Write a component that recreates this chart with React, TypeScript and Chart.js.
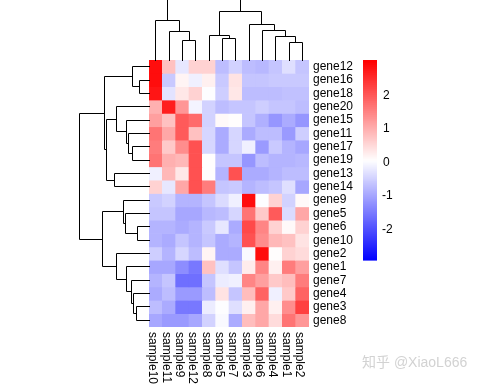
import React, { useEffect, useRef } from "react";
import { Chart, registerables } from "chart.js";

Chart.register(...registerables);

const samples = ["sample10", "sample11", "sample9", "sample12", "sample8", "sample5", "sample7", "sample3", "sample6", "sample4", "sample1", "sample2"];
const genes = ["gene12", "gene16", "gene18", "gene20", "gene15", "gene11", "gene17", "gene19", "gene13", "gene14", "gene9", "gene5", "gene6", "gene10", "gene2", "gene1", "gene7", "gene4", "gene3", "gene8"];

// rows follow `genes`, columns follow `samples`
const expr: number[][] = [
  [2.9, 0.8, -0.2, 0.6, 0.6, -0.7, -0.45, -0.7, -0.75, -0.6, -0.3, -0.6],
  [2.9, -0.55, 0.2, -0.1, 0.25, -0.55, 0.4, -0.6, -0.6, -0.55, -0.55, -0.55],
  [2.8, -0.25, 0.35, 0.6, 0.05, -0.5, 0.35, -0.7, -0.7, -0.7, -0.65, -0.65],
  [1.0, 2.7, 1.3, -0.05, -0.45, -0.7, -0.6, -0.6, -0.5, -0.6, -0.6, -0.7],
  [1.2, 0.8, 2.0, 1.8, -0.45, 0.15, 0.1, -0.6, -0.85, -1.15, -0.9, -1.15],
  [1.7, 1.1, 2.0, 0.8, -0.4, -0.9, -0.4, -0.9, -0.7, -0.7, -1.1, -0.5],
  [1.6, 0.7, 1.4, 2.1, -0.4, -0.9, -0.4, -0.1, -1.1, -0.55, -0.8, -0.95],
  [1.7, 1.0, 0.9, 2.1, 0.1, -0.6, -0.6, -1.15, -0.7, -0.8, -0.8, -0.75],
  [-0.1, 0.9, 0.35, 2.1, 0.1, -0.8, 2.1, -0.9, -0.9, -0.8, -0.7, -0.7],
  [0.6, -0.2, 1.1, 2.1, 1.6, -0.6, -0.55, -0.8, -0.7, -0.6, -0.3, -0.95],
  [-0.55, -0.45, -0.8, -0.8, -0.6, -0.35, -0.1, 2.9, 0.05, 0.6, -0.45, 0.15],
  [-0.6, -0.6, -0.95, -0.95, -0.75, -0.7, -0.4, 1.7, 0.7, 2.0, -0.35, 1.1],
  [-0.8, -0.8, -0.9, -0.8, -0.55, -0.2, -0.9, 2.2, 1.5, 0.6, 0.15, 0.6],
  [-0.8, -0.9, -0.6, -0.8, -0.6, -0.9, -0.8, 2.1, 1.4, 0.9, 0.8, 0.4],
  [-0.5, -0.8, -0.4, -0.7, 0.2, -0.9, -0.9, 0.0, 2.9, 0.1, 0.6, 0.5],
  [-0.95, -0.95, -1.25, -1.5, 0.8, -0.3, -0.6, 0.3, 1.5, 0.25, 1.6, 1.2],
  [-0.8, -0.6, -1.6, -1.6, -0.6, -0.15, -0.1, 1.5, 1.2, 0.7, 0.85, 1.6],
  [-0.9, -0.7, -1.1, -1.1, -0.7, 0.4, -0.6, 0.85, 1.9, -0.1, 0.7, 1.9],
  [-0.7, -0.9, -1.5, -1.5, -0.15, 0.05, -0.3, 0.25, 1.1, 0.25, 1.4, 2.3],
  [-0.95, -1.1, -1.1, -0.95, -0.45, 0.0, -0.9, 0.85, 1.1, 0.5, 1.7, 1.3],
];

// hclust-style merges: negative = leaf (1-based, display order), positive = earlier merge
const rowMerges: [number, number][] = [
  [-2, -3], [-1, 1], [-7, -8], [-6, 3], [-5, 4], [-4, 5], [-9, -10], [6, 7], [2, 8],
  [-13, -14], [-12, 10], [-11, 11], [-19, -20], [-18, 13], [-17, 14], [-16, 15], [-15, 16], [12, 17], [9, 18],
];
const rowHeights = [0.9, 1.67, 1.67, 2.07, 2.23, 3.23, 3.47, 4.23, 4.47, 1.17, 2.33, 2.57, 1.23, 1.57, 1.73, 2.23, 3.23, 4.67, 6.97];

const colMerges: [number, number][] = [
  [-3, -4], [-2, 1], [-1, 2], [-6, -7], [-5, 4], [-11, -12], [-10, 6], [-9, 7], [-8, 8], [5, 9], [3, 10],
];
const colHeights = [1.93, 2.83, 3.9, 2.17, 2.4, 1.77, 2.3, 2.9, 3.5, 4.83, 6.97];

const legendTicks = [2, 1, 0, -1, -2];
const colorMin = -2.9;
const colorMax = 3.05;

function colorFor(v: number): string {
  const mid = (colorMin + colorMax) / 2;
  if (v <= mid) {
    const t = Math.max(0, Math.min(1, (v - colorMin) / (mid - colorMin)));
    const c = Math.round(255 * t);
    return `rgb(${c},${c},255)`;
  }
  const t = Math.max(0, Math.min(1, (v - mid) / (colorMax - mid)));
  const c = Math.round(255 * (1 - t));
  return `rgb(255,${c},${c})`;
}

function computeTree(merges: [number, number][], heights: number[], leafPos: (i: number) => number) {
  const pos: number[] = [];
  const childInfo = (c: number) => (c < 0 ? { p: leafPos(-c - 1), h: 0 } : { p: pos[c - 1], h: heights[c - 1] });
  const nodes: { p: number; h: number; kids: { p: number; h: number }[] }[] = [];
  merges.forEach(([a, b], k) => {
    const ca = childInfo(a);
    const cb = childInfo(b);
    pos[k] = (ca.p + cb.p) / 2;
    nodes.push({ p: pos[k], h: heights[k], kids: [ca, cb] });
  });
  return nodes;
}

const FONT = '"Liberation Sans", Arial, "Noto Sans", sans-serif';

const overlayPlugin = {
  id: "heatOverlay",
  afterDraw(chart: any) {
    const ctx: CanvasRenderingContext2D = chart.ctx;
    const area = chart.chartArea;
    const xs = chart.scales.x;
    const ys = chart.scales.y;
    const treePx = 70;
    const snap = (v: number) => Math.round(v - 0.5) + 0.5;

    ctx.save();
    ctx.strokeStyle = "#000";
    ctx.lineWidth = 1;

    // row dendrogram (left)
    const rScale = treePx / Math.max(...rowHeights);
    const rowNodes = computeTree(rowMerges, rowHeights, (i) => ys.getPixelForValue(i + 0.5));
    ctx.beginPath();
    rowNodes.forEach((n) => {
      const nx = snap(area.left - n.h * rScale);
      const [a, b] = n.kids;
      ctx.moveTo(nx, snap(a.p));
      ctx.lineTo(nx, snap(b.p));
      n.kids.forEach((k) => {
        ctx.moveTo(nx, snap(k.p));
        ctx.lineTo(snap(area.left - k.h * rScale) + (k.h === 0 ? 0.5 : 0), snap(k.p));
      });
    });
    ctx.stroke();

    // column dendrogram (top)
    const cScale = treePx / Math.max(...colHeights);
    const colNodes = computeTree(colMerges, colHeights, (i) => xs.getPixelForValue(i));
    ctx.beginPath();
    colNodes.forEach((n) => {
      const ny = snap(area.top - n.h * cScale);
      const [a, b] = n.kids;
      ctx.moveTo(snap(a.p), ny);
      ctx.lineTo(snap(b.p), ny);
      n.kids.forEach((k) => {
        ctx.moveTo(snap(k.p), ny);
        ctx.lineTo(snap(k.p), snap(area.top - k.h * cScale) + (k.h === 0 ? 0.5 : 0));
      });
    });
    ctx.stroke();

    // row labels
    ctx.fillStyle = "#000";
    ctx.font = `12px ${FONT}`;
    ctx.textAlign = "left";
    ctx.textBaseline = "middle";
    genes.forEach((g, i) => {
      ctx.fillText(g, area.right + 4, ys.getPixelForValue(i + 0.5));
    });

    // column labels (rotated, reading downward)
    samples.forEach((s, i) => {
      ctx.save();
      ctx.translate(xs.getPixelForValue(i) - 3, area.bottom + 5);
      ctx.rotate(Math.PI / 2);
      ctx.textAlign = "left";
      ctx.textBaseline = "middle";
      ctx.fillText(s, 0, 0);
      ctx.restore();
    });

    // color legend
    const lx = area.right + 54;
    const lw = 14;
    const lTop = area.top;
    const lBottom = area.top + 200;
    const yFor = (v: number) => lBottom - ((v - colorMin) / (colorMax - colorMin)) * (lBottom - lTop);
    const steps = 100;
    for (let i = 0; i < steps; i++) {
      const v0 = colorMin + ((colorMax - colorMin) * i) / steps;
      const v1 = colorMin + ((colorMax - colorMin) * (i + 1)) / steps;
      ctx.fillStyle = colorFor((v0 + v1) / 2);
      const y1 = yFor(v1);
      const y0 = yFor(v0);
      ctx.fillRect(lx, y1, lw, y0 - y1 + 0.6);
    }
    ctx.fillStyle = "#000";
    ctx.font = `12px ${FONT}`;
    ctx.textAlign = "left";
    ctx.textBaseline = "middle";
    legendTicks.forEach((t) => {
      ctx.fillText(String(t), lx + (t < 0 ? 19 : 20), yFor(t));
    });

    // watermark
    ctx.font = `14px "Liberation Sans", "Noto Sans CJK SC", sans-serif`;
    ctx.fillStyle = "rgba(205,205,205,0.9)";
    ctx.textAlign = "left";
    ctx.textBaseline = "middle";
    ctx.fillText("知乎 @XiaoL666", 362, 363);

    ctx.restore();
  },
};

export default function App() {
  const ref = useRef<HTMLCanvasElement | null>(null);

  useEffect(() => {
    if (!ref.current) return;
    const chart = new Chart(ref.current, {
      type: "bar",
      data: {
        labels: samples,
        datasets: genes.map((g, r) => ({
          label: g,
          data: samples.map(() => 1),
          backgroundColor: expr[r].map(colorFor),
          borderWidth: 0,
          barPercentage: 1,
          categoryPercentage: 1,
        })),
      },
      options: {
        responsive: false,
        animation: false,
        events: [],
        layout: { padding: { left: 149, top: 60, right: 171, bottom: 57 } },
        plugins: { legend: { display: false }, tooltip: { enabled: false } },
        scales: {
          x: { display: false, stacked: true },
          y: { display: false, stacked: true, min: 0, max: 20, reverse: true },
        },
      },
      plugins: [overlayPlugin],
    });
    return () => chart.destroy();
  }, []);

  return (
    <div style={{ position: "fixed", left: 0, top: 0, width: 480, height: 384, background: "#fff" }}>
      <canvas ref={ref} width={480} height={384} style={{ display: "block" }} />
    </div>
  );
}
